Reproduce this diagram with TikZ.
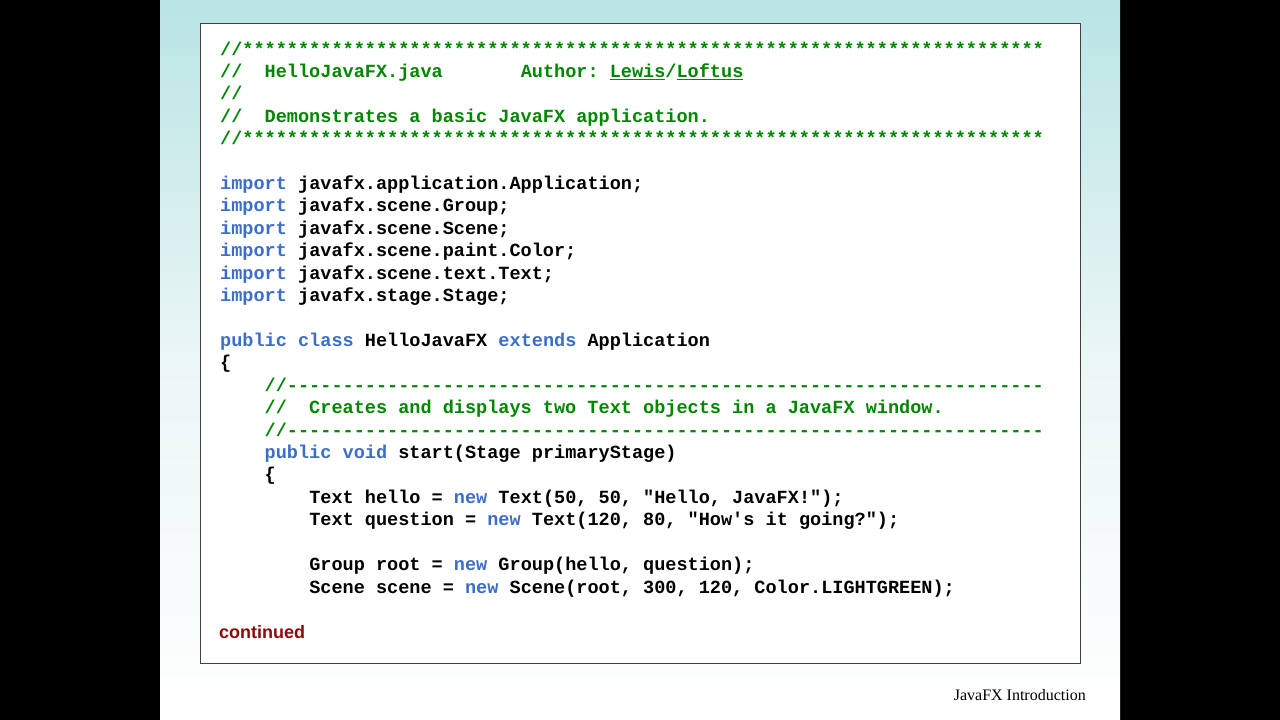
\documentclass[tikz,border=0pt]{standalone}
\usepackage{fontspec}
\setmonofont{Liberation Mono}
\setsansfont{Liberation Sans}
\setmainfont{Liberation Serif}
\definecolor{cgreen}{RGB}{0,135,0}
\definecolor{ckw}{RGB}{60,110,200}
\definecolor{cred}{RGB}{140,10,10}
\newcommand{\kw}[1]{\textcolor{ckw}{#1}}
\newcommand{\cm}[1]{\textcolor{cgreen}{#1}}
\begin{document}
\begin{tikzpicture}[x=1pt,y=-1pt,
  code/.style={anchor=base west,inner sep=0pt,font=\fontsize{18.55}{20}\ttfamily\bfseries}]
\useasboundingbox (0,0) rectangle (1280,720);
\fill[black] (0,0) rectangle (1280,720);
\shade[top color={rgb,255:red,185;green,228;blue,228},bottom color=white,middle color={rgb,255:red,235;green,246;blue,246}] (160,0) rectangle (1120,720);
\draw[fill=white,draw=black!75,line width=1pt] (200,23) rectangle (1080,663);
\node[code] (l0) at (220,{49+6}) {\cm{//************************************************************************}};
\node[code] (l1) at (220,{49+22.42*1+6}) {\cm{//~~HelloJavaFX.java~~~~~~~Author:~\underline{Lewis}/\underline{Loftus}}};
\node[code] (l2) at (220,{49+22.42*2+6}) {\cm{//}};
\node[code] (l3) at (220,{49+22.42*3+6}) {\cm{//~~Demonstrates a basic JavaFX application.}};
\node[code] (l4) at (220,{49+22.42*4+6}) {\cm{//************************************************************************}};
\node[code] (l6) at (220,{49+22.42*6+6}) {\kw{import} javafx.application.Application;};
\node[code] (l7) at (220,{49+22.42*7+6}) {\kw{import} javafx.scene.Group;};
\node[code] (l8) at (220,{49+22.42*8+6}) {\kw{import} javafx.scene.Scene;};
\node[code] (l9) at (220,{49+22.42*9+6}) {\kw{import} javafx.scene.paint.Color;};
\node[code] (l10) at (220,{49+22.42*10+6}) {\kw{import} javafx.scene.text.Text;};
\node[code] (l11) at (220,{49+22.42*11+6}) {\kw{import} javafx.stage.Stage;};
\node[code] (l13) at (220,{49+22.42*13+6}) {\kw{public class} HelloJavaFX \kw{extends} Application};
\node[code] (l14) at (220,{49+22.42*14+6}) {\{};
\node[code] (l15) at (220,{49+22.42*15+6}) {~~~~\cm{//--------------------------------------------------------------------}};
\node[code] (l16) at (220,{49+22.42*16+6}) {~~~~\cm{//~~Creates and displays two Text objects in a JavaFX window.}};
\node[code] (l17) at (220,{49+22.42*17+6}) {~~~~\cm{//--------------------------------------------------------------------}};
\node[code] (l18) at (220,{49+22.42*18+6}) {~~~~\kw{public void} start(Stage primaryStage)};
\node[code] (l19) at (220,{49+22.42*19+6}) {~~~~\{};
\node[code] (l20) at (220,{49+22.42*20+6}) {~~~~~~~~Text hello = \kw{new} Text(50, 50, "Hello, JavaFX!");};
\node[code] (l21) at (220,{49+22.42*21+6}) {~~~~~~~~Text question = \kw{new} Text(120, 80, "How's it going?");};
\node[code] (l23) at (220,{49+22.42*23+6}) {~~~~~~~~Group root = \kw{new} Group(hello, question);};
\node[code] (l24) at (220,{49+22.42*24+6}) {~~~~~~~~Scene scene = \kw{new} Scene(root, 300, 120, Color.LIGHTGREEN);};
\node[anchor=base west,inner sep=0pt,font=\fontsize{18}{20}\sffamily\bfseries,text=cred] (cont) at (219,638) {continued};
\node[anchor=base east,inner sep=0pt,font=\fontsize{16}{18}\rmfamily] (foot) at (1086,700) {JavaFX Introduction};
\end{tikzpicture}
\end{document}
